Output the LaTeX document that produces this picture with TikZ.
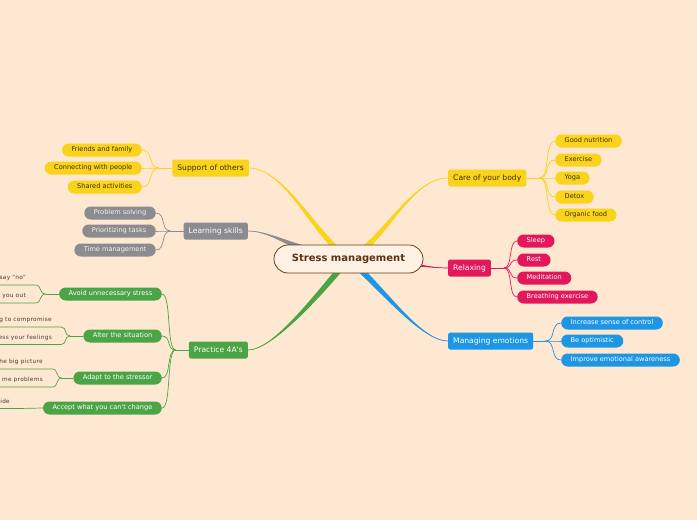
\documentclass[tikz,border=0pt]{standalone}
\usepackage{fontspec}
\setmainfont{DejaVu Sans}
\newfontfamily\notefont{DejaVu Sans}[LetterSpace=5]
\usetikzlibrary{positioning,calc}

\definecolor{paper}{HTML}{FEE8D1}
\definecolor{rootfill}{HTML}{FFF2E4}
\definecolor{rootline}{HTML}{6E3C14}
\definecolor{roottext}{HTML}{5A3210}
\definecolor{sunny}{HTML}{F9D31C}
\definecolor{slate}{HTML}{8B8B90}
\definecolor{leafgreen}{HTML}{4BA446}
\definecolor{rosy}{HTML}{E2185B}
\definecolor{sky}{HTML}{1E96E6}
\definecolor{inktext}{HTML}{3C3005}
\definecolor{notetext}{HTML}{4A3B2E}

\pgfdeclarelayer{bg}
\pgfdeclarelayer{links}
\pgfsetlayers{bg,links,main}

% tapered main branch: colour, from, to, control 1, control 2, half width
\newcommand\branch[6]{%
  \fill[#1] ($(#2)+#6$) .. controls ($#4+#6$) and #5 .. (#3) .. controls #5 and ($#4-#6$) .. ($(#2)-#6$) -- cycle;
  \draw[#1, line width=0.7pt] (#2) .. controls #4 and #5 .. (#3);}

\tikzset{
  root/.style={draw=rootline, line width=0.8pt, fill=rootfill, rounded corners=14pt,
    minimum width=149pt, minimum height=28pt, text=roottext,
    font=\fontsize{10}{12}\selectfont\bfseries, text height=7.2pt, text depth=2pt},
  topic/.style={rounded corners=2pt, minimum height=17pt, inner xsep=5pt,
    font=\fontsize{7.6}{9}\selectfont, text height=5.6pt, text depth=1.6pt},
  item/.style={rounded corners=6.5pt, minimum height=13pt, inner xsep=9.5pt,
    font=\fontsize{6.6}{8}\selectfont, text height=4.8pt, text depth=1.3pt},
  note/.style={anchor=south east, inner xsep=9pt, inner ysep=4pt, text=notetext,
    font=\notefont\fontsize{5.8}{7}\selectfont, text height=4.3pt, text depth=1.2pt},
  twig/.style={line width=0.7pt},
  fork/.style={to path={.. controls ($(\tikztostart)!0.7!(\tikztotarget |- \tikztostart)$)
    and ($(\tikztotarget)!0.7!(\tikztostart |- \tikztotarget)$) .. (\tikztotarget)}}
}

\begin{document}
\begin{tikzpicture}[x=1pt, y=-1pt]
  \useasboundingbox (0,0) rectangle (697,520);
  \begin{pgfonlayer}{bg}
    \fill[paper] (0,0) rectangle (697,520);
  \end{pgfonlayer}
  \coordinate (edge) at (0,0);

  \node[root] (sm) at (348.5,259) {Stress management};

  % main topics
  \node[topic, fill=sunny, text=inktext, anchor=west] (body) at (448,178) {Care of your body};
  \node[topic, fill=rosy, text=white, anchor=west] (relax) at (448,268) {Relaxing};
  \node[topic, fill=sky, text=white, anchor=west] (emo) at (448,341) {Managing emotions};
  \node[topic, fill=sunny, text=inktext, anchor=east] (others) at (249,168) {Support of others};
  \node[topic, fill=slate, text=white, anchor=east] (skills) at (248,231) {Learning skills};
  \node[topic, fill=leafgreen, text=white, anchor=east] (four) at (248,350) {Practice 4A\textquotesingle s};

  % sub topics
  \foreach \n/\y/\t in {nutri/141/Good nutrition, exer/160/Exercise, yoga/178/Yoga,
      detox/197/Detox, organic/215/Organic food}
    \node[item, fill=sunny, text=inktext, anchor=west] (\n) at (555,\y) {\t};
  \foreach \n/\y/\t in {sleep/241/Sleep, rest/260/Rest, medit/278/Meditation,
      breath/297/Breathing exercise}
    \node[item, fill=rosy, text=white, anchor=west] (\n) at (517,\y) {\t};
  \foreach \n/\y/\t in {control/323/Increase sense of control, optim/341/Be optimistic,
      aware/360/Improve emotional awareness}
    \node[item, fill=sky, text=white, anchor=west] (\n) at (561,\y) {\t};
  \foreach \n/\y/\t in {friends/150/Friends and family, connect/168/Connecting with people,
      shared/187/Shared activities}
    \node[item, fill=sunny, text=inktext, anchor=east] (\n) at (142,\y) {\t};
  \foreach \n/\y/\t in {problem/213/Problem solving, prior/231/Prioritizing tasks,
      timem/250/Time management}
    \node[item, fill=slate, text=white!92!slate, anchor=east] (\n) at (156,\y) {\t};
  \node[item, fill=leafgreen, text=white, anchor=east] (avoid) at (162,294) {Avoid unnecessary stress};
  \node[item, fill=leafgreen, text=white, anchor=east] (alter) at (162,336) {Alter the situation};
  \node[item, fill=leafgreen, text=white, anchor=east] (adapt) at (162,378) {Adapt to the stressor};
  \node[item, fill=leafgreen, text=white, anchor=east] (accept) at (162,408) {Accept what you can\textquotesingle t change};

  % notes at the left edge
  \node[note] (sayno) at (35,285) {say "no"};
  \node[note] (youout) at (35,303) {you out};
  \node[note] (compro) at (61,327) {g to compromise};
  \node[note] (feelings) at (61,344.5) {ess your feelings};
  \node[note] (bigpic) at (52,369) {he big picture};
  \node[note] (reframe) at (52,387) {me problems};
  \node[note] (upside) at (19,408.5) {ide};

  \begin{pgfonlayer}{links}
    % main branches
    \branch{sunny}{sm.center}{body.west}{(383,244)}{(410,178)}{(1.4,3)}
    \branch{rosy}{sm.center}{relax.west}{(400,259)}{(420,268)}{(0,4)}
    \branch{sky}{sm.center}{emo.west}{(381,286)}{(420,341)}{(-1.8,2.6)}
    \branch{sunny}{sm.center}{others.east}{(315,236)}{(285,168)}{(1.6,-2.6)}
    \branch{slate}{sm.center}{skills.east}{(300,255)}{(275,231)}{(1,5)}
    \branch{leafgreen}{sm.center}{four.east}{(318,295)}{(273,350)}{(2.2,2.2)}

    % sub branches
    \draw[twig, sunny] (body.east) -- ++(13,0) coordinate (bodyfork);
    \foreach \n in {nutri,exer,yoga,detox,organic}
      \draw[twig, sunny] (bodyfork) to[fork] (\n.west);
    \draw[twig, rosy] (relax.east) -- ++(13,0) coordinate (relaxfork);
    \foreach \n in {sleep,rest,medit,breath}
      \draw[twig, rosy] (relaxfork) to[fork] (\n.west);
    \draw[twig, sky] (emo.east) -- ++(12,0) coordinate (emofork);
    \foreach \n in {control,optim,aware}
      \draw[twig, sky] (emofork) to[fork] (\n.west);
    \draw[twig, sunny] (others.west) -- ++(-13,0) coordinate (othersfork);
    \foreach \n in {friends,connect,shared}
      \draw[twig, sunny] (othersfork) to[fork] (\n.east);
    \draw[twig, slate] (skills.west) -- ++(-13,0) coordinate (skillsfork);
    \foreach \n in {problem,prior,timem}
      \draw[twig, slate] (skillsfork) to[fork] (\n.east);
    \draw[twig, leafgreen] (four.west) -- ++(-13,0) coordinate (fourfork);
    \foreach \n in {avoid,alter,adapt,accept}
      \draw[twig, leafgreen] (fourfork) to[fork] (\n.east);

    % note branches
    \draw[twig, leafgreen] (avoid.west) -- ++(-13,0) coordinate (avoidfork);
    \draw[twig, leafgreen] (alter.west) -- ++(-13,0) coordinate (alterfork);
    \draw[twig, leafgreen] (adapt.west) -- ++(-11,0) coordinate (adaptfork);
    \foreach \f/\n in {avoidfork/sayno, avoidfork/youout, alterfork/compro,
        alterfork/feelings, adaptfork/bigpic, adaptfork/reframe}
      \draw[twig, leafgreen] (\f) to[fork] (\n.south east) -- (\n.south east -| edge);
    \draw[twig, leafgreen] (accept.west) -- (upside.south east) -- (upside.south east -| edge);
  \end{pgfonlayer}
\end{tikzpicture}
\end{document}
